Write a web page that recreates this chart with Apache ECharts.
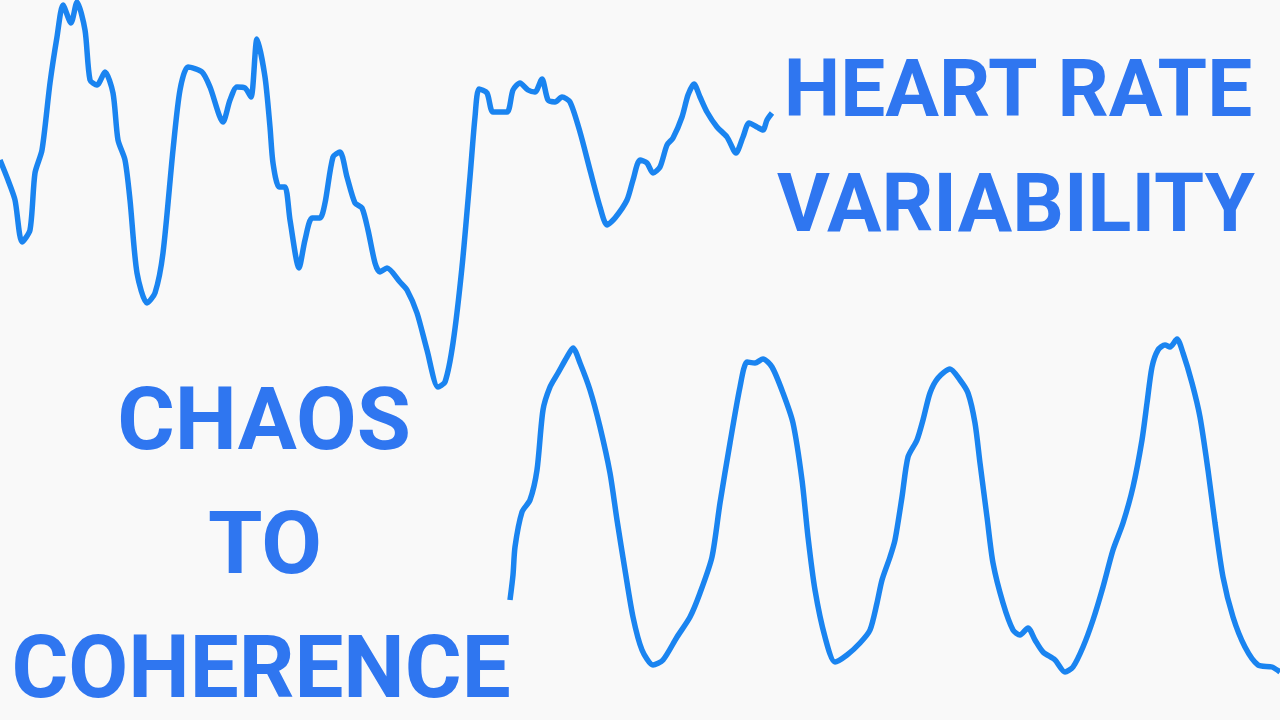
<!DOCTYPE html>
<html>
<head>
<meta charset="utf-8">
<script src="https://cdn.jsdelivr.net/npm/echarts@6/dist/echarts.min.js"></script>
<style>
html,body{margin:0;padding:0;background:#f9f9f9;}
#c{width:1280px;height:720px;}
</style>
</head>
<body>
<div id="c"></div>
<script>
// Chaotic heart-rate trace: [time, value] (value axis grows downward)
const chaosPoints = [
[0,160],[8,180],[15,200],[22,242],[30,230],[35,173],[42,150],[50,83],[57,37],[63,5],
[71,23],[77,2],[85,30],[90,80],[97,85],[105,72],[113,93],[118,140],[125,160],[130,200],
[137,273],[147,303],[155,293],[163,253],[173,150],[180,90],[188,67],[202,72],[210,87],[223,122],
[230,100],[237,87],[245,88],[251,97],[257,39],[265,77],[270,127],[273,163],[279,187],[285,187],
[290,220],[299,268],[305,240],[312,218],[320,218],[325,203],[333,157],[340,152],[347,177],[355,203],
[362,208],[368,230],[375,263],[380,272],[387,268],[400,282],[407,290],[417,313],[427,350],[438,387],
[445,382],[453,343],[462,267],[470,177],[475,117],[479,89],[487,93],[493,112],[507,112],[513,90],
[520,83],[528,90],[535,92],[542,79],[548,100],[555,102],[562,97],[570,102],[580,132],[590,170],
[600,207],[607,225],[615,218],[627,200],[633,180],[640,160],[647,163],[653,173],[660,167],[667,145],
[673,138],[682,117],[688,95],[694,84],[700,97],[707,112],[717,127],[727,137],[736,153],[743,137],
[749,123],[757,127],[763,130],[767,120],[772,113]
];
// Coherent heart-rate trace
const coherencePoints = [
[510,600],[513,575],[515,547],[522,512],[530,500],[537,470],[543,410],[550,387],[558,373],[567,357],
[573,348],[580,363],[590,390],[600,427],[610,473],[617,520],[625,570],[633,617],[642,650],[653,665],
[663,660],[677,637],[690,617],[700,593],[712,557],[720,503],[730,443],[740,387],[747,362],[755,363],
[763,359],[772,367],[783,393],[793,423],[802,480],[808,537],[815,590],[825,637],[835,662],[847,655],
[860,643],[870,630],[877,603],[882,580],[890,557],[895,540],[902,497],[908,457],[917,440],[923,420],
[930,393],[938,378],[950,369],[960,380],[968,393],[975,423],[980,463],[987,517],[993,563],[1003,603],
[1013,630],[1020,635],[1028,628],[1035,640],[1043,652],[1055,660],[1065,672],[1073,667],[1083,647],[1093,620],
[1103,587],[1113,550],[1123,523],[1133,487],[1142,440],[1147,403],[1152,367],[1158,350],[1165,345],[1170,347],
[1177,339],[1183,353],[1192,383],[1200,417],[1208,470],[1215,523],[1223,577],[1233,617],[1245,647],[1258,665],
[1272,667],[1280,672]
];
const titleTop = ['HEART RATE', 'VARIABILITY'];
const titleBottom = ['CHAOS', 'TO', 'COHERENCE'];

const lineColor = '#1a84f0';
const textColor = '#2f76f0';
const fam = "Roboto,'Open Sans',sans-serif";

const chart = echarts.init(document.getElementById('c'));
chart.setOption({
  backgroundColor: '#f9f9f9',
  animation: false,
  grid: {left: 0, right: 0, top: 0, bottom: 0},
  xAxis: {type: 'value', min: 0, max: 1280, show: false},
  yAxis: {type: 'value', min: 0, max: 720, inverse: true, show: false},
  series: [
    {type: 'line', data: chaosPoints, showSymbol: false, smooth: 0.25,
     lineStyle: {color: lineColor, width: 5.5}},
    {type: 'line', data: coherencePoints, showSymbol: false, smooth: 0.25,
     lineStyle: {color: lineColor, width: 5.5}}
  ],
  graphic: [
    {type: 'text', style: {text: titleTop[0], x: 1018, y: 96, align: 'center', verticalAlign: 'middle', fill: textColor, font: "bold 80px " + fam}},
    {type: 'text', style: {text: titleTop[1], x: 1016, y: 211, align: 'center', verticalAlign: 'middle', fill: textColor, font: "bold 81px " + fam}},
    {type: 'text', style: {text: titleBottom[0], x: 264, y: 427, align: 'center', verticalAlign: 'middle', fill: textColor, font: "bold 88px " + fam}},
    {type: 'text', style: {text: titleBottom[1], x: 265, y: 551, align: 'center', verticalAlign: 'middle', fill: textColor, font: "bold 88px " + fam}},
    {type: 'text', style: {text: titleBottom[2], x: 261, y: 675, align: 'center', verticalAlign: 'middle', fill: textColor, font: "bold 87px " + fam}}
  ]
});
</script>
</body>
</html>
